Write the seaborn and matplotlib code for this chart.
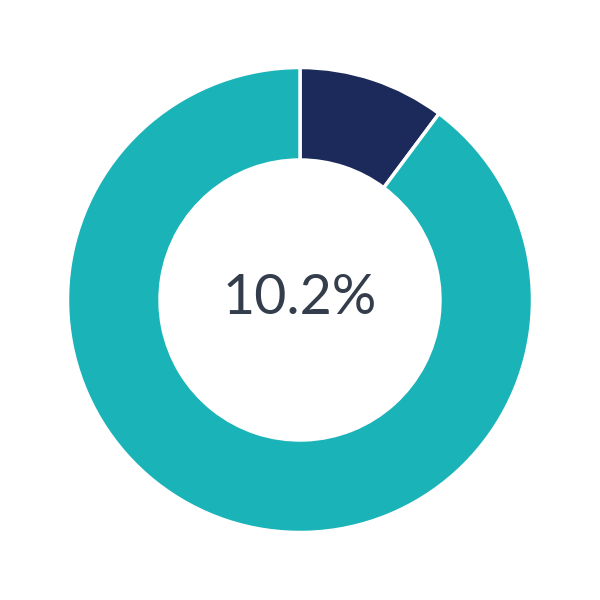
import matplotlib
matplotlib.use("Agg")
import matplotlib.pyplot as plt
import seaborn as sns

# --- Dados ---
categories = ["Selected", "Rest"]
shares = [10.2, 89.8]
slice_colors = ["#1b2a5a", "#1ab3b8"]
center_label = "10.2%"

sns.set_theme(style="white")
plt.rcParams['font.family'] = ['Lato', 'DejaVu Sans']

fig = plt.figure(figsize=(6, 6), dpi=100)
ax = fig.add_axes([0, 0, 1, 1])

# donut em unidades de pixel (centro 0,0)
ax.pie(
    shares,
    labels=None,
    colors=slice_colors,
    startangle=90,
    counterclock=False,
    radius=232.5,
    wedgeprops=dict(width=92.5, edgecolor="white", linewidth=2.5),
)
ax.set_xlim(-300, 300)
ax.set_ylim(-300, 300)
ax.set_aspect("equal")
ax.axis("off")

ax.text(0, 2, center_label, ha="center", va="center",
        fontsize=40, color="#343d4b")

fig.savefig("out.png", dpi=100, facecolor="white")
plt.close(fig)
